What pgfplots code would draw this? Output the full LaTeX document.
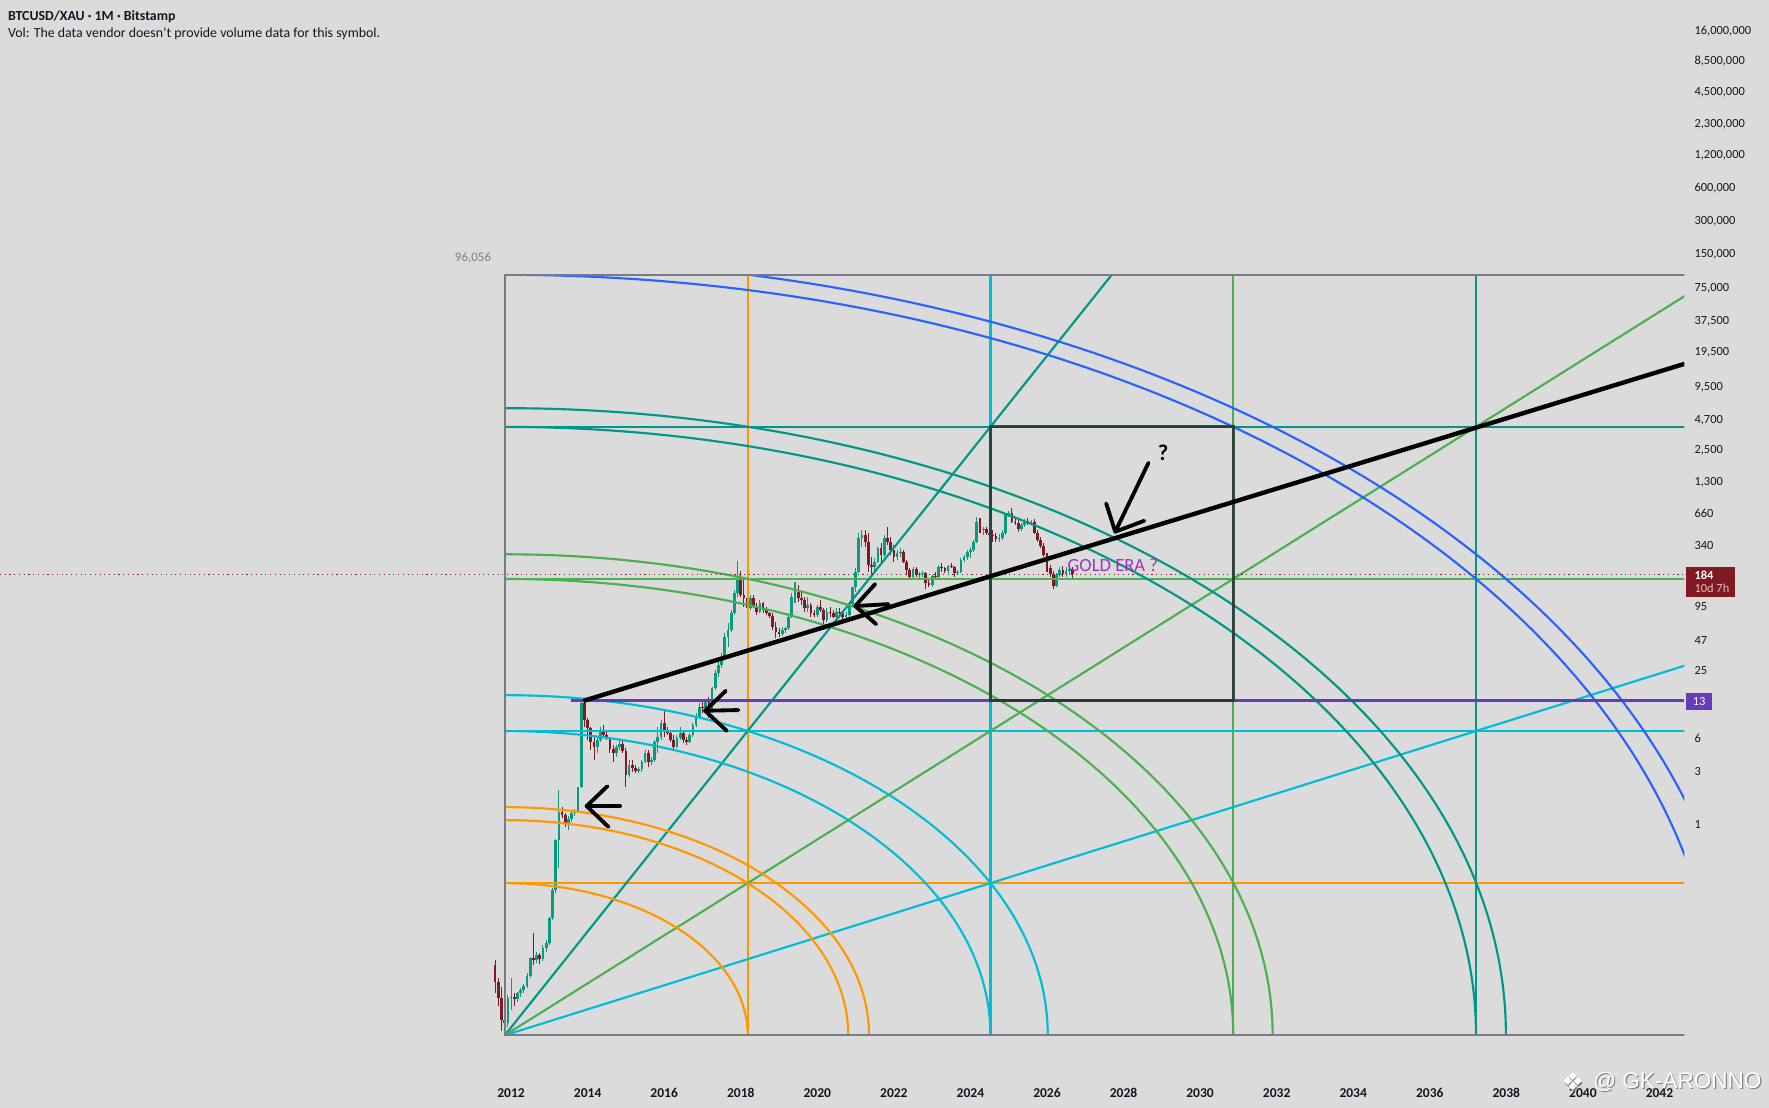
\documentclass[border=0pt]{standalone}
\usepackage{pgfplots}
\pgfplotsset{compat=1.18}
\usepackage{pgfplotstable}
\usepackage{fontspec}
\setmainfont{Carlito}
\newfontfamily\wmfont{Liberation Sans}
\newfontfamily\symfont{DejaVu Sans}

\definecolor{bg}{RGB}{219,219,219}
\definecolor{tvtext}{RGB}{19,23,34}
\definecolor{cgreen}{RGB}{8,153,129}
\definecolor{cred}{RGB}{128,25,34}
\definecolor{gorange}{RGB}{255,152,0}
\definecolor{gcyan}{RGB}{0,188,212}
\definecolor{ggreen}{RGB}{76,175,80}
\definecolor{gteal}{RGB}{0,150,136}
\definecolor{gblue}{RGB}{41,98,255}
\definecolor{gpurple}{RGB}{103,58,183}
\definecolor{ggray}{RGB}{120,123,134}
\definecolor{magent}{RGB}{165,50,185}
\definecolor{tagtxt}{RGB}{225,190,195}
\definecolor{boxdark}{RGB}{38,52,48}

% monthly candles: time (decimal year), open, high, low, close
\pgfplotstableread{
t o h l c
2011.583 0.052 0.058 0.0288 0.0367
2011.667 0.0367 0.0395 0.0219 0.0259
2011.750 0.0259 0.033 0.013 0.0165
2011.833 0.0165 0.019 0.0121 0.0154
2011.917 0.0154 0.0278 0.0144 0.0259
2012.000 0.0259 0.0395 0.0204 0.0265
2012.083 0.0265 0.0288 0.0219 0.0254
2012.167 0.0254 0.0297 0.0242 0.0288
2012.250 0.0288 0.0319 0.0268 0.0309
2012.333 0.0309 0.0349 0.0288 0.0335
2012.417 0.0335 0.0436 0.0319 0.0414
2012.500 0.0414 0.062 0.0395 0.060
2012.583 0.060 0.101 0.052 0.058
2012.667 0.058 0.069 0.054 0.064
2012.750 0.064 0.0665 0.053 0.0587
2012.833 0.0587 0.079 0.0566 0.074
2012.917 0.074 0.0878 0.069 0.082
2013.000 0.082 0.143 0.079 0.138
2013.083 0.138 0.259 0.134 0.25
2013.167 0.25 0.732 0.233 0.71
2013.250 0.71 2.02 0.392 1.28
2013.333 1.28 1.42 1.12 1.2
2013.417 1.2 1.24 0.94 1.0
2013.500 1.0 1.16 0.876 1.09
2013.583 1.09 1.28 1.04 1.24
2013.667 1.24 1.35 1.16 1.28
2013.750 1.28 2.16 1.24 2.16
2013.833 2.16 13.4 2.09 12.3
2013.917 12.3 12.8 7.58 8.71
2014.000 8.71 9.03 5.74 7.32
2014.083 7.32 7.58 4.66 5.54
2014.167 5.54 6.37 3.78 4.99
2014.250 4.99 6.15 4.34 5.74
2014.333 5.74 7.58 5.54 7.07
2014.417 7.07 7.85 5.94 6.37
2014.500 6.37 6.83 5.74 5.94
2014.583 5.94 6.15 4.34 4.72
2014.667 4.72 5.17 3.65 4.34
2014.750 4.34 5.17 4.05 4.92
2014.833 4.92 5.74 4.66 5.28
2014.917 5.28 5.74 4.34 4.59
2015.000 4.59 4.82 2.16 2.76
2015.083 2.76 3.78 2.63 3.40
2015.167 3.40 3.78 2.96 3.17
2015.250 3.17 3.40 2.86 3.02
2015.333 3.02 3.29 2.86 3.11
2015.417 3.11 3.78 2.96 3.65
2015.500 3.65 4.66 3.52 4.34
2015.583 4.34 4.66 3.29 3.65
2015.667 3.65 4.05 3.40 3.78
2015.750 3.78 5.74 3.65 5.54
2015.833 5.54 7.58 4.34 6.15
2015.917 6.15 8.71 5.74 8.13
2016.000 8.13 10.7 6.15 6.83
2016.083 6.83 7.58 6.37 6.59
2016.167 6.59 7.07 5.54 5.74
2016.250 5.74 6.37 4.66 4.99
2016.333 4.99 6.37 4.82 5.94
2016.417 5.94 7.58 5.74 6.59
2016.500 6.59 7.07 5.35 5.74
2016.583 5.74 6.15 5.17 5.54
2016.667 5.54 6.59 5.35 6.37
2016.750 6.37 8.13 6.15 7.85
2016.833 7.85 10.0 7.58 9.35
2016.917 9.35 12.3 9.03 11.5
2017.000 11.5 13.2 10.0 11.1
2017.083 11.1 13.2 10.7 12.8
2017.167 12.8 14.2 9.03 10.7
2017.250 10.7 17.5 10.4 16.9
2017.333 16.9 24.8 16.3 23.1
2017.417 23.1 30.5 21.6 27.5
2017.500 27.5 35.1 25.7 32.7
2017.583 32.7 53.3 31.6 49.7
2017.667 49.7 65.6 40.4 57.2
2017.750 57.2 86.8 55.2 81.0
2017.833 81.0 131.9 78.2 122.9
2017.917 122.9 241.3 114.7 168.3
2018.000 168.3 198 114.7 118.8
2018.083 118.8 163 93.1 110.8
2018.167 110.8 127.4 83.9 90.0
2018.250 90.0 118.8 86.8 110.8
2018.333 110.8 118.8 90.0 93.1
2018.417 93.1 99.8 78.3 83.9
2018.500 83.9 107.1 81.0 99.8
2018.583 99.8 103.4 81.0 86.8
2018.667 86.8 93.1 78.3 81.0
2018.750 81.0 83.9 73.0 76.7
2018.833 76.7 81.0 57.2 61.3
2018.917 61.3 68.1 48.0 55.2
2019.000 55.2 59.2 49.8 52.6
2019.083 52.6 61.3 50.5 57.2
2019.167 57.2 61.3 54.1 59.2
2019.250 59.2 81.0 57.2 75.6
2019.333 75.6 123.0 73.0 114.7
2019.417 114.7 157 99.8 127.4
2019.500 127.4 146.5 103.4 110.8
2019.583 110.8 127.4 96.4 107.1
2019.667 107.1 114.7 83.9 90.0
2019.750 90.0 114.7 83.9 96.4
2019.833 96.4 99.8 75.6 81.0
2019.917 81.0 86.8 75.6 78.3
2020.000 78.3 96.4 75.6 93.1
2020.083 93.1 107.1 83.9 86.8
2020.167 86.8 90.0 57.2 70.5
2020.250 70.5 90.0 68.1 83.9
2020.333 83.9 93.1 75.6 81.0
2020.417 81.0 86.8 73.0 75.6
2020.500 75.6 90.0 73.0 83.9
2020.583 83.9 90.0 75.6 81.0
2020.667 81.0 83.9 70.5 74.6
2020.750 74.6 83.9 71.5 78.3
2020.833 78.3 103.4 75.6 98.5
2020.917 98.5 141.4 94.5 139.5
2021.000 139.5 207 127.4 194
2021.083 194 431 187 388
2021.167 388 462 326 417
2021.250 417 462 326 362
2021.333 362 431 194 222
2021.417 222 265 181 212
2021.500 212 256 194 239
2021.583 239 326 230 315
2021.667 315 350 239 274
2021.750 274 417 265 388
2021.833 388 496 338 362
2021.917 362 402 274 304
2022.000 304 338 239 265
2022.083 265 304 247 284
2022.167 284 315 265 294
2022.250 294 304 230 239
2022.333 239 247 181 200
2022.417 200 207 163 174
2022.500 174 215 168 203
2022.583 203 215 174 181
2022.667 181 194 168 183
2022.750 183 198 174 187
2022.833 187 194 133.8 152
2022.917 152 163 141.4 146.5
2023.000 146.5 181 141.4 177
2023.083 177 194 168 174
2023.167 174 222 163 212
2023.250 212 230 194 207
2023.333 207 215 187 198
2023.417 198 222 187 218
2023.500 218 230 207 212
2023.583 212 218 174 187
2023.667 187 200 181 194
2023.750 194 256 187 247
2023.833 247 274 239 265
2023.917 265 304 247 294
2024.000 294 326 256 304
2024.083 304 375 294 362
2024.167 362 603 350 550
2024.250 550 590 431 462
2024.333 462 496 417 469
2024.417 469 496 417 431
2024.500 431 479 402 417
2024.583 417 462 362 408
2024.667 408 431 362 380
2024.750 380 425 362 388
2024.833 388 462 375 431
2024.917 431 664 417 646
2025.000 646 692 603 664
2025.083 664 727 530 550
2025.167 550 590 513 531
2025.250 531 570 446 469
2025.333 469 531 455 513
2025.417 513 577 496 562
2025.500 562 590 513 539
2025.583 539 570 522 550
2025.667 550 577 425 437
2025.750 437 462 362 375
2025.833 375 396 315 331
2025.917 331 350 261 274
2026.000 274 288 194 207
2026.083 207 222 174 184
2026.167 184 198 133.8 143.5
2026.250 143.5 187 139.5 181
2026.333 181 212 172 200
2026.417 200 218 174 184
2026.500 184 212 172 198
2026.583 198 212 181 203
2026.667 203 215 168 184
}\candles

% quarter-ellipse arc of the Gann box (radius factor #2), drawn in screen units
\newcommand\garc[2]{\draw[#1, line width=1.9pt] (axis cs:2011.838,0.012) ++({#2*215.2pt},0pt) arc[start angle=0, end angle=90, x radius={#2*215.2pt}, y radius={#2*134.8pt}];}

\begin{document}
\begin{tikzpicture}[x=1pt,y=1pt]
\fill[bg] (0pt,0pt) rectangle (1568pt,982pt);
\begin{axis}[
  at={(0pt,32pt)}, anchor=south west,
  scale only axis, width=1493pt, height=950pt,
  xmin=1998.649, xmax=2042.652,
  ymode=log, ymin=0.00559, ymax=2.983e7,
  axis line style={draw=none},
  tick style={draw=none},
  major tick length=0pt,
  xtick={2012,2014,...,2042},
  xticklabels={2012,2014,2016,2018,2020,2022,2024,2026,2028,2030,2032,2034,2036,2038,2040,2042},
  xticklabel style={anchor=base, inner sep=0pt, yshift=-22.8pt, font=\bfseries\fontsize{12}{14}\selectfont, text=tvtext},
  ytick={1,3,6,25,47,95,340,660,1300,2500,4700,9500,19500,37500,75000,150000,300000,600000,1200000,2300000,4500000,8500000,16000000},
  yticklabels={{1},{3},{6},{25},{47},{95},{340},{660},{1,300},{2,500},{4,700},{9,500},{19,500},{37,500},{75,000},{150,000},{300,000},{600,000},{1,200,000},{2,300,000},{4,500,000},{8,500,000},{16,000,000}},
  yticklabel pos=right,
  yticklabel style={anchor=base west, inner sep=0pt, xshift=8.8pt, yshift=-4.2pt, font=\fontsize{11}{13}\selectfont, text=tvtext},
]
% ---- candles built from the table ----
\pgfplotstablegetrowsof{\candles}
\pgfmathtruncatemacro{\lastrow}{\pgfplotsretval-1}
\gdef\gw{}\gdef\gb{}\gdef\rw{}\gdef\rb{}
\pgfplotsforeachungrouped \i in {0,...,\lastrow}{%
  \pgfplotstablegetelem{\i}{t}\of\candles\let\cT\pgfplotsretval
  \pgfplotstablegetelem{\i}{o}\of\candles\let\cO\pgfplotsretval
  \pgfplotstablegetelem{\i}{h}\of\candles\let\cH\pgfplotsretval
  \pgfplotstablegetelem{\i}{l}\of\candles\let\cL\pgfplotsretval
  \pgfplotstablegetelem{\i}{c}\of\candles\let\cC\pgfplotsretval
  \ifdim\cC pt<\cO pt
    \xdef\rw{\rw (\cT,\cL) (\cT,\cH) (\cT,nan)}%
    \xdef\rb{\rb (\cT,\cO) (\cT,\cC) (\cT,nan)}%
  \else
    \xdef\gw{\gw (\cT,\cL) (\cT,\cH) (\cT,nan)}%
    \xdef\gb{\gb (\cT,\cO) (\cT,\cC) (\cT,nan)}%
  \fi
}
\edef\temp{\noexpand\addplot[cred, line width=0.9pt, unbounded coords=jump, forget plot] coordinates {\rw};
  \noexpand\addplot[cred, line width=2.4pt, unbounded coords=jump, forget plot] coordinates {\rb};
  \noexpand\addplot[cgreen, line width=0.9pt, unbounded coords=jump, forget plot] coordinates {\gw};
  \noexpand\addplot[cgreen, line width=2.4pt, unbounded coords=jump, forget plot] coordinates {\gb};}
\temp

% ---- Gann box ----
\addplot[gorange, line width=1.9pt, forget plot] coordinates {(2018.181,0.012) (2018.181,96056)};
\addplot[gcyan, line width=1.9pt, forget plot] coordinates {(2024.524,0.012) (2024.524,96056)};
\addplot[ggreen, line width=1.9pt, forget plot] coordinates {(2030.867,0.012) (2030.867,96056)};
\addplot[gteal, line width=1.9pt, forget plot] coordinates {(2037.210,0.012) (2037.210,96056)};
\addplot[gorange, line width=1.9pt, forget plot] coordinates {(2011.838,0.2883) (2043.553,0.2883)};
\addplot[gcyan, line width=1.9pt, forget plot] coordinates {(2011.838,6.925) (2043.553,6.925)};
\addplot[ggreen, line width=1.9pt, forget plot] coordinates {(2011.838,166.3) (2043.553,166.3)};
\addplot[gteal, line width=1.9pt, forget plot] coordinates {(2011.838,3995) (2043.553,3995)};
\addplot[gteal, line width=1.9pt, forget plot] coordinates {(2011.838,0.012) (2027.696,96056)};
\addplot[ggreen, line width=1.9pt, forget plot] coordinates {(2011.838,0.012) (2043.553,96056)};
\addplot[gcyan, line width=1.9pt, forget plot] coordinates {(2011.838,0.012) (2043.553,33.93)};
\begin{scope}
\clip (axis cs:2011.838,0.012) rectangle (axis cs:2043.553,96056);
\garc{gorange}{1}\garc{gorange}{1.4142}\garc{gorange}{1.5}
\garc{gcyan}{2}\garc{gcyan}{2.2361}
\garc{ggreen}{3}\garc{ggreen}{3.1623}
\garc{gteal}{4}\garc{gteal}{4.1231}
\garc{gblue}{5}\garc{gblue}{5.0990}
\end{scope}
\addplot[ggray, line width=1.9pt, forget plot] coordinates {(2043.553,96056) (2011.838,96056) (2011.838,0.012) (2043.553,0.012)};

% ---- levels ----
\addplot[gpurple, line width=2.4pt, forget plot] coordinates {(2013.568,13) (2042.652,13)};
\addplot[cred, line width=0.8pt, dash pattern=on 1pt off 3.2pt, forget plot] coordinates {(1998.649,184) (2042.652,184)};
\addplot[boxdark, opacity=0.85, line width=2.6pt, forget plot] coordinates {(2024.524,13) (2030.867,13) (2030.867,3995) (2024.524,3995) (2024.524,13)};

% ---- trend line and arrows ----
\addplot[black, line width=3.9pt, forget plot] coordinates {(2013.89,13.0) (2042.652,14870)};
\addplot[black, line width=3.4pt, line cap=round, line join=round, forget plot] coordinates {(2014.517,2.187) (2013.975,1.441) (2014.543,0.934)};
\addplot[black, line width=3.4pt, line cap=round, forget plot] coordinates {(2013.975,1.441) (2014.847,1.441)};
\addplot[black, line width=3.4pt, line cap=round, line join=round, forget plot] coordinates {(2017.609,16.03) (2017.069,10.57) (2017.635,6.94)};
\addplot[black, line width=3.4pt, line cap=round, forget plot] coordinates {(2017.069,10.57) (2017.939,10.72)};
\addplot[black, line width=3.4pt, line cap=round, line join=round, forget plot] coordinates {(2021.511,149.2) (2020.989,94.2) (2021.537,64.6)};
\addplot[black, line width=3.4pt, line cap=round, forget plot] coordinates {(2020.989,94.2) (2021.858,98.1)};
\addplot[black, line width=3.4pt, line cap=round, line join=round, forget plot] coordinates {(2027.546,805) (2027.783,445.4) (2028.540,560)};
\addplot[black, line width=3.4pt, line cap=round, forget plot] coordinates {(2027.783,445.4) (2028.652,1882)};

\node[anchor=west, inner sep=0pt, text=magent, font=\fontsize{16.5}{18}\selectfont] at (axis cs:2026.536,221.8) {GOLD ERA ?};
\node[inner sep=0pt, font=\bfseries\fontsize{20}{22}\selectfont] at (axis cs:2029.03,2336) {?};
\end{axis}

% ---- header ----
\node[anchor=base west, inner sep=0pt, text=tvtext, font=\bfseries\fontsize{12.3}{14}\selectfont] at (7pt,964pt) {BTCUSD/XAU · 1M · Bitstamp};
\node[anchor=base west, inner sep=0pt, text=tvtext, font=\fontsize{12.3}{14}\selectfont] at (7pt,949pt) {Vol: The data vendor doesn't provide volume data for this symbol.};
\node[anchor=base east, inner sep=0pt, text=gray, font=\fontsize{11.5}{13}\selectfont] at (435.5pt,750.5pt) {96,056};

% ---- price tags ----
\fill[cred] (1494.7pt,452.5pt) rectangle (1537.5pt,479pt);
\node[anchor=base west, inner sep=0pt, text=white, font=\bfseries\fontsize{11}{13}\selectfont] at (1501.8pt,468.2pt) {184};
\node[anchor=base west, inner sep=0pt, text=tagtxt, font=\fontsize{11}{13}\selectfont] at (1501.8pt,456.9pt) {10d 7h};
\fill[gpurple] (1494.7pt,353.1pt) rectangle (1517.4pt,367.6pt);
\node[anchor=base, inner sep=0pt, text=white, font=\fontsize{11}{13}\selectfont] at (1506pt,357pt) {13};

% ---- watermark ----
\node[anchor=center, inner sep=0pt, text=gray, font=\symfont\fontsize{22}{24}\selectfont] at (1395pt,22pt) {❖};
\node[anchor=center, inner sep=0pt, text=white, font=\symfont\fontsize{22}{24}\selectfont] at (1394pt,23pt) {❖};
\node[anchor=west, inner sep=0pt, text=gray, font=\wmfont\fontsize{20}{22}\selectfont] at (1413pt,22pt) {@ GK-ARONNO};
\node[anchor=west, inner sep=0pt, text=white, font=\wmfont\fontsize{20}{22}\selectfont] at (1412pt,23pt) {@ GK-ARONNO};

\pgfresetboundingbox
\useasboundingbox (0pt,0pt) rectangle (1568pt,982pt);
\end{tikzpicture}
\end{document}
